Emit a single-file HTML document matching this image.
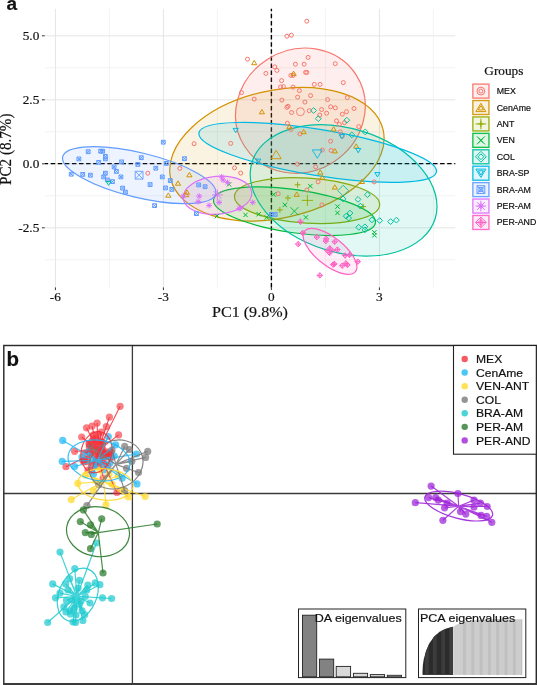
<!DOCTYPE html>
<html lang="en"><head><meta charset="utf-8"><title>PCA and DAPC of population groups</title>
<style>
html,body{margin:0;padding:0;background:#fff;}
body{width:537px;height:685px;overflow:hidden;font-family:"Liberation Sans",Arial,sans-serif;}
svg{display:block;}
</style></head><body>
<svg width="537" height="685" viewBox="0 0 537 685">
<rect width="537" height="685" fill="#fff"/>
<g id="panelA">
<g stroke="#e9e9e9" stroke-width="0.6">
<line x1="109.4" x2="109.4" y1="8.8" y2="287.4"/>
<line x1="217.4" x2="217.4" y1="8.8" y2="287.4"/>
<line x1="325.4" x2="325.4" y1="8.8" y2="287.4"/>
<line x1="433.4" x2="433.4" y1="8.8" y2="287.4"/>
<line x1="44.7" x2="455.3" y1="67.8" y2="67.8"/>
<line x1="44.7" x2="455.3" y1="131.8" y2="131.8"/>
<line x1="44.7" x2="455.3" y1="195.8" y2="195.8"/>
<line x1="44.7" x2="455.3" y1="259.8" y2="259.8"/>
</g>
<g stroke="#e5e5e5" stroke-width="1.0">
<line x1="55.4" x2="55.4" y1="8.8" y2="287.4"/>
<line x1="163.4" x2="163.4" y1="8.8" y2="287.4"/>
<line x1="271.4" x2="271.4" y1="8.8" y2="287.4"/>
<line x1="379.4" x2="379.4" y1="8.8" y2="287.4"/>
<line x1="44.7" x2="455.3" y1="35.8" y2="35.8"/>
<line x1="44.7" x2="455.3" y1="99.8" y2="99.8"/>
<line x1="44.7" x2="455.3" y1="163.8" y2="163.8"/>
<line x1="44.7" x2="455.3" y1="227.8" y2="227.8"/>
</g>
<g stroke="#000" stroke-width="1.4" stroke-dasharray="4.5 2.58">
<line x1="44.7" x2="455.3" y1="163.6" y2="163.6" stroke-dashoffset="1.1"/>
<line x1="271.4" x2="271.4" y1="287.4" y2="8.8"/>
</g>
<g>
<ellipse cx="300.4" cy="110.7" rx="66.26" ry="61.06" transform="rotate(147.52 300.4 110.7)" fill="#F8766D" fill-opacity="0.115" stroke="#F8766D" stroke-width="1.2" stroke-opacity="1.0"/>
<ellipse cx="276.9" cy="154.2" rx="109" ry="63.72" transform="rotate(167.12 276.9 154.2)" fill="#D39200" fill-opacity="0.115" stroke="#D39200" stroke-width="1.2" stroke-opacity="1.0"/>
<ellipse cx="307.1" cy="200.6" rx="72.72" ry="22.61" transform="rotate(-176.51 307.1 200.6)" fill="#93AA00" fill-opacity="0.115" stroke="#93AA00" stroke-width="1.2" stroke-opacity="1.0"/>
<ellipse cx="294.5" cy="211.2" rx="81.78" ry="21.53" transform="rotate(-171.79 294.5 211.2)" fill="#00BA38" fill-opacity="0.115" stroke="#00BA38" stroke-width="1.2" stroke-opacity="1.0"/>
<ellipse cx="343.6" cy="190.4" rx="95.84" ry="61.99" transform="rotate(-162.92 343.6 190.4)" fill="#00C19F" fill-opacity="0.115" stroke="#00C19F" stroke-width="1.2" stroke-opacity="1.0"/>
<ellipse cx="317.7" cy="152.4" rx="120.33" ry="23.1" transform="rotate(-170.67 317.7 152.4)" fill="#00B9E3" fill-opacity="0.115" stroke="#00B9E3" stroke-width="1.2" stroke-opacity="1.0"/>
<ellipse cx="139.2" cy="175.2" rx="78.72" ry="22.32" transform="rotate(-166.43 139.2 175.2)" fill="#619CFF" fill-opacity="0.115" stroke="#619CFF" stroke-width="1.2" stroke-opacity="1.0"/>
<ellipse cx="217.5" cy="195.3" rx="34.39" ry="18.94" transform="rotate(175.11 217.5 195.3)" fill="#DB72FB" fill-opacity="0.115" stroke="#DB72FB" stroke-width="1.2" stroke-opacity="1.0"/>
<ellipse cx="330" cy="251.4" rx="32.52" ry="13.97" transform="rotate(-141.52 330 251.4)" fill="#FF61C3" fill-opacity="0.115" stroke="#FF61C3" stroke-width="1.2" stroke-opacity="1.0"/>
</g>
<g fill="none" stroke="#F8766D" stroke-width="1.0">
<circle cx="306.8" cy="21.2" r="2"/><circle cx="286.9" cy="36.2" r="2"/><circle cx="291.4" cy="35.2" r="2"/><circle cx="247.5" cy="59.2" r="2"/><circle cx="308.1" cy="57.4" r="2"/><circle cx="295.4" cy="64.2" r="2"/><circle cx="304.1" cy="64.2" r="2"/><circle cx="335.3" cy="63.7" r="2"/><circle cx="274.7" cy="66.9" r="2"/><circle cx="276.9" cy="70.4" r="2"/><circle cx="265.9" cy="73.4" r="2"/><circle cx="305.6" cy="72.4" r="2"/><circle cx="306.8" cy="72.4" r="2"/><circle cx="290.9" cy="75.4" r="2"/><circle cx="293.1" cy="75.4" r="2"/><circle cx="281.6" cy="80.6" r="2"/><circle cx="314.3" cy="84.4" r="2"/><circle cx="320.1" cy="84.4" r="2"/><circle cx="343.3" cy="82.6" r="2"/><circle cx="280.6" cy="86.9" r="2"/><circle cx="283.4" cy="86.6" r="2"/><circle cx="293.1" cy="87.1" r="2"/><circle cx="241.5" cy="92.6" r="2"/><circle cx="299.4" cy="90.6" r="2"/><circle cx="254.2" cy="99.1" r="2"/><circle cx="297.6" cy="97.1" r="2"/><circle cx="310.6" cy="95.6" r="2"/><circle cx="347.3" cy="97.6" r="2"/><circle cx="281.9" cy="100.1" r="2"/><circle cx="327.6" cy="99.6" r="2"/><circle cx="304.9" cy="102.1" r="2"/><circle cx="288.1" cy="106.3" r="2"/><circle cx="286.9" cy="107.3" r="2"/><circle cx="330.6" cy="106.8" r="2"/><circle cx="335.3" cy="107.8" r="2"/><circle cx="354" cy="108.5" r="2"/><circle cx="291.6" cy="112.5" r="2"/><circle cx="309.3" cy="110.7" r="2"/><circle cx="321.6" cy="109.5" r="2"/><circle cx="319.8" cy="115" r="2"/><circle cx="326.6" cy="113.2" r="2"/><circle cx="342.3" cy="114.2" r="2"/><circle cx="336.5" cy="120.9" r="2"/><circle cx="344.5" cy="122.7" r="2"/><circle cx="339.3" cy="124.4" r="2"/><circle cx="287.4" cy="123.2" r="2"/><circle cx="290.9" cy="129.4" r="2"/><circle cx="299.9" cy="133.9" r="2"/><circle cx="340.3" cy="131.9" r="2"/><circle cx="342.3" cy="136.2" r="2"/><circle cx="330.6" cy="141.2" r="2"/><circle cx="230.7" cy="143.4" r="2"/><circle cx="322.3" cy="150.1" r="2"/><circle cx="331.1" cy="150.4" r="2"/><circle cx="297.4" cy="164.1" r="2"/><circle cx="315.6" cy="166.9" r="2"/><circle cx="234.5" cy="167.9" r="2"/><circle cx="240.7" cy="173.1" r="2"/><circle cx="318.1" cy="181.8" r="2"/><circle cx="346.5" cy="111.7" r="2"/><circle cx="358.7" cy="126.6" r="2"/><circle cx="147.8" cy="173.2" r="2"/><circle cx="179.8" cy="168.4" r="2"/><circle cx="194.1" cy="143.7" r="2"/><circle cx="374.2" cy="181.9" r="2"/><circle cx="278.2" cy="193.7" r="2"/><circle cx="306.9" cy="190" r="2"/><circle cx="321.9" cy="204.9" r="2"/>
</g>
<g fill="none" stroke="#D39200" stroke-width="1.0">
<path d="M254.2 60.4 L256.8 64.71 L251.6 64.71 Z"/><path d="M293.6 71.1 L296.2 75.41 L291 75.41 Z"/><path d="M261.9 109.5 L264.5 113.81 L259.3 113.81 Z"/><path d="M289.4 124.4 L292 128.71 L286.8 128.71 Z"/><path d="M303.6 129.4 L306.2 133.71 L301 133.71 Z"/><path d="M333.6 126.7 L336.2 131.01 L331 131.01 Z"/><path d="M334.8 148.6 L337.4 152.91 L332.2 152.91 Z"/><path d="M320.3 169.9 L322.9 174.21 L317.7 174.21 Z"/><path d="M322.3 175.3 L324.9 179.61 L319.7 179.61 Z"/><path d="M334.8 184.8 L337.4 189.11 L332.2 189.11 Z"/><path d="M356.2 143.8 L358.8 148.11 L353.6 148.11 Z"/><path d="M361.9 179.2 L364.5 183.51 L359.3 183.51 Z"/><path d="M178 180.9 L180.6 185.21 L175.4 185.21 Z"/><path d="M168.3 192.9 L170.9 197.21 L165.7 197.21 Z"/><path d="M189.4 172.5 L192 176.81 L186.8 176.81 Z"/><path d="M186.9 189.9 L189.5 194.21 L184.3 194.21 Z"/><path d="M186.2 192.4 L188.8 196.71 L183.6 196.71 Z"/><path d="M296.7 192 L299.3 196.31 L294.1 196.31 Z"/>
</g>
<g fill="none" stroke="#93AA00" stroke-width="1.0">
<path d="M294.7 184.8 H300.5 M297.6 181.9 V187.7"/><path d="M285 198 H290.8 M287.9 195.1 V200.9"/><path d="M277 209.9 H282.8 M279.9 207 V212.8"/><path d="M360.3 206.6 H366.1 M363.2 203.7 V209.5"/>
</g>
<g fill="none" stroke="#00BA38" stroke-width="1.0">
<path d="M308.1 183.9 L312.5 188.3 M308.1 188.3 L312.5 183.9"/><path d="M271.5 192.3 L275.9 196.7 M271.5 196.7 L275.9 192.3"/><path d="M282.7 202.7 L287.1 207.1 M282.7 207.1 L287.1 202.7"/><path d="M303.7 215.2 L308.1 219.6 M303.7 219.6 L308.1 215.2"/><path d="M243.3 212.7 L247.7 217.1 M243.3 217.1 L247.7 212.7"/><path d="M256.5 212 L260.9 216.4 M256.5 216.4 L260.9 212"/><path d="M264.5 215.2 L268.9 219.6 M264.5 219.6 L268.9 215.2"/><path d="M335.3 204.4 L339.7 208.8 M335.3 208.8 L339.7 204.4"/><path d="M335.3 210.7 L339.7 215.1 M335.3 215.1 L339.7 210.7"/><path d="M372.2 230.1 L376.6 234.5 M372.2 234.5 L376.6 230.1"/><path d="M372.2 233.1 L376.6 237.5 M372.2 237.5 L376.6 233.1"/><path d="M226.9 182.2 L231.3 186.6 M226.9 186.6 L231.3 182.2"/><path d="M214.7 213.9 L219.1 218.3 M214.7 218.3 L219.1 213.9"/>
</g>
<g fill="none" stroke="#00C19F" stroke-width="1.0">
<path d="M313.6 107.6 L316.5 110.5 L313.6 113.4 L310.7 110.5 Z"/><path d="M318.3 115.8 L321.2 118.7 L318.3 121.6 L315.4 118.7 Z"/><path d="M346.8 117.3 L349.7 120.2 L346.8 123.1 L343.9 120.2 Z"/><path d="M351.8 132 L354.7 134.9 L351.8 137.8 L348.9 134.9 Z"/><path d="M365.2 129 L368.1 131.9 L365.2 134.8 L362.3 131.9 Z"/><path d="M367.4 191.8 L370.3 194.7 L367.4 197.6 L364.5 194.7 Z"/><path d="M343 196 L345.9 198.9 L343 201.8 L340.1 198.9 Z"/><path d="M358 196.5 L360.9 199.4 L358 202.3 L355.1 199.4 Z"/><path d="M360.4 203.2 L363.3 206.1 L360.4 209 L357.5 206.1 Z"/><path d="M350 210.2 L352.9 213.1 L350 216 L347.1 213.1 Z"/><path d="M346.2 213.2 L349.1 216.1 L346.2 219 L343.3 216.1 Z"/><path d="M348.7 215.2 L351.6 218.1 L348.7 221 L345.8 218.1 Z"/><path d="M371.9 217 L374.8 219.9 L371.9 222.8 L369 219.9 Z"/><path d="M379.7 217.7 L382.6 220.6 L379.7 223.5 L376.8 220.6 Z"/><path d="M390.6 218.7 L393.5 221.6 L390.6 224.5 L387.7 221.6 Z"/><path d="M396.4 217.2 L399.3 220.1 L396.4 223 L393.5 220.1 Z"/><path d="M358.7 224.4 L361.6 227.3 L358.7 230.2 L355.8 227.3 Z"/><path d="M364.9 223.9 L367.8 226.8 L364.9 229.7 L362 226.8 Z"/><path d="M364.9 226.9 L367.8 229.8 L364.9 232.7 L362 229.8 Z"/>
</g>
<g fill="none" stroke="#00B9E3" stroke-width="1.0">
<path d="M235.7 132.7 L238.3 128.39 L233.1 128.39 Z"/><path d="M258.2 163.4 L260.8 159.09 L255.6 159.09 Z"/><path d="M341.8 138.9 L344.4 134.59 L339.2 134.59 Z"/><path d="M358.2 152.8 L360.8 148.49 L355.6 148.49 Z"/><path d="M377.4 176.9 L380 172.59 L374.8 172.59 Z"/>
</g>
<g fill="none" stroke="#619CFF" stroke-width="1.0">
<path d="M161.4 140.3 H165.2 V144.1 H161.4 Z M161.4 140.3 L165.2 144.1 M161.4 144.1 L165.2 140.3"/><path d="M86.3 149.8 H90.1 V153.6 H86.3 Z M86.3 149.8 L90.1 153.6 M86.3 153.6 L90.1 149.8"/><path d="M98.8 149.3 H102.6 V153.1 H98.8 Z M98.8 149.3 L102.6 153.1 M98.8 153.1 L102.6 149.3"/><path d="M100.8 149.3 H104.6 V153.1 H100.8 Z M100.8 149.3 L104.6 153.1 M100.8 153.1 L104.6 149.3"/><path d="M103.5 154.5 H107.3 V158.3 H103.5 Z M103.5 154.5 L107.3 158.3 M103.5 158.3 L107.3 154.5"/><path d="M103.5 157 H107.3 V160.8 H103.5 Z M103.5 157 L107.3 160.8 M103.5 160.8 L107.3 157"/><path d="M77 157 H80.8 V160.8 H77 Z M77 157 L80.8 160.8 M77 160.8 L80.8 157"/><path d="M139.4 155.8 H143.2 V159.6 H139.4 Z M139.4 155.8 L143.2 159.6 M139.4 159.6 L143.2 155.8"/><path d="M119.7 160 H123.5 V163.8 H119.7 Z M119.7 160 L123.5 163.8 M119.7 163.8 L123.5 160"/><path d="M96.8 160.5 H100.6 V164.3 H96.8 Z M96.8 160.5 L100.6 164.3 M96.8 164.3 L100.6 160.5"/><path d="M135.9 162.5 H139.7 V166.3 H135.9 Z M135.9 162.5 L139.7 166.3 M135.9 166.3 L139.7 162.5"/><path d="M164.4 161.5 H168.2 V165.3 H164.4 Z M164.4 161.5 L168.2 165.3 M164.4 165.3 L168.2 161.5"/><path d="M112.2 165 H116 V168.8 H112.2 Z M112.2 165 L116 168.8 M112.2 168.8 L116 165"/><path d="M153.9 166.3 H157.7 V170.1 H153.9 Z M153.9 166.3 L157.7 170.1 M153.9 170.1 L157.7 166.3"/><path d="M69.3 172.3 H73.1 V176.1 H69.3 Z M69.3 172.3 L73.1 176.1 M69.3 176.1 L73.1 172.3"/><path d="M80.8 172.5 H84.6 V176.3 H80.8 Z M80.8 172.5 L84.6 176.3 M80.8 176.3 L84.6 172.5"/><path d="M88.5 173.3 H92.3 V177.1 H88.5 Z M88.5 173.3 L92.3 177.1 M88.5 177.1 L92.3 173.3"/><path d="M103.5 171.3 H107.3 V175.1 H103.5 Z M103.5 171.3 L107.3 175.1 M103.5 175.1 L107.3 171.3"/><path d="M114.5 169.5 H118.3 V173.3 H114.5 Z M114.5 169.5 L118.3 173.3 M114.5 173.3 L118.3 169.5"/><path d="M119 175 H122.8 V178.8 H119 Z M119 175 L122.8 178.8 M119 178.8 L122.8 175"/><path d="M101.8 175 H105.6 V178.8 H101.8 Z M101.8 175 L105.6 178.8 M101.8 178.8 L105.6 175"/><path d="M105.5 178 H109.3 V181.8 H105.5 Z M105.5 178 L109.3 181.8 M105.5 181.8 L109.3 178"/><path d="M110.5 179.7 H114.3 V183.5 H110.5 Z M110.5 179.7 L114.3 183.5 M110.5 183.5 L114.3 179.7"/><path d="M160.4 175 H164.2 V178.8 H160.4 Z M160.4 175 L164.2 178.8 M160.4 178.8 L164.2 175"/><path d="M168.4 178.7 H172.2 V182.5 H168.4 Z M168.4 178.7 L172.2 182.5 M168.4 182.5 L172.2 178.7"/><path d="M148.2 182.7 H152 V186.5 H148.2 Z M148.2 182.7 L152 186.5 M148.2 186.5 L152 182.7"/><path d="M120.7 186.2 H124.5 V190 H120.7 Z M120.7 186.2 L124.5 190 M120.7 190 L124.5 186.2"/><path d="M123.5 190.2 H127.3 V194 H123.5 Z M123.5 190.2 L127.3 194 M123.5 194 L127.3 190.2"/><path d="M163.6 186 H167.4 V189.8 H163.6 Z M163.6 186 L167.4 189.8 M163.6 189.8 L167.4 186"/><path d="M169.9 187.5 H173.7 V191.3 H169.9 Z M169.9 187.5 L173.7 191.3 M169.9 191.3 L173.7 187.5"/><path d="M152.7 203.7 H156.5 V207.5 H152.7 Z M152.7 203.7 L156.5 207.5 M152.7 207.5 L156.5 203.7"/><path d="M182.6 156.8 H186.4 V160.6 H182.6 Z M182.6 156.8 L186.4 160.6 M182.6 160.6 L186.4 156.8"/><path d="M196.8 183 H200.6 V186.8 H196.8 Z M196.8 183 L200.6 186.8 M196.8 186.8 L200.6 183"/><path d="M203.2 184.8 H207 V188.6 H203.2 Z M203.2 184.8 L207 188.6 M203.2 188.6 L207 184.8"/><path d="M194.5 211.7 H198.3 V215.5 H194.5 Z M194.5 211.7 L198.3 215.5 M194.5 215.5 L198.3 211.7"/><path d="M269.5 212.5 H273.3 V216.3 H269.5 Z M269.5 212.5 L273.3 216.3 M269.5 216.3 L273.3 212.5"/><path d="M273.3 212.5 H277.1 V216.3 H273.3 Z M273.3 212.5 L277.1 216.3 M273.3 216.3 L277.1 212.5"/>
</g>
<g fill="none" stroke="#DB72FB" stroke-width="1.0">
<path d="M218.7 177 H224.5 M221.6 174.1 V179.9"/><path d="M219.51 174.91 L223.69 179.09 M219.51 179.09 L223.69 174.91"/><path d="M220.2 180 H226 M223.1 177.1 V182.9"/><path d="M221.01 177.91 L225.19 182.09 M221.01 182.09 L225.19 177.91"/><path d="M224.5 182.4 H230.3 M227.4 179.5 V185.3"/><path d="M225.31 180.31 L229.49 184.49 M225.31 184.49 L229.49 180.31"/><path d="M196.3 196.2 H202.1 M199.2 193.3 V199.1"/><path d="M197.11 194.11 L201.29 198.29 M197.11 198.29 L201.29 194.11"/><path d="M195.3 201.7 H201.1 M198.2 198.8 V204.6"/><path d="M196.11 199.61 L200.29 203.79 M196.11 203.79 L200.29 199.61"/><path d="M206.2 205.4 H212 M209.1 202.5 V208.3"/><path d="M207.01 203.31 L211.19 207.49 M207.01 207.49 L211.19 203.31"/><path d="M216.2 202.4 H222 M219.1 199.5 V205.3"/><path d="M217.01 200.31 L221.19 204.49 M217.01 204.49 L221.19 200.31"/><path d="M236.2 208.6 H242 M239.1 205.7 V211.5"/><path d="M237.01 206.51 L241.19 210.69 M237.01 210.69 L241.19 206.51"/><path d="M249.9 202.4 H255.7 M252.8 199.5 V205.3"/><path d="M250.71 200.31 L254.89 204.49 M250.71 204.49 L254.89 200.31"/><path d="M180.3 196.2 H186.1 M183.2 193.3 V199.1"/><path d="M181.11 194.11 L185.29 198.29 M181.11 198.29 L185.29 194.11"/><path d="M237.8 207.9 H243.6 M240.7 205 V210.8"/><path d="M238.61 205.81 L242.79 209.99 M238.61 209.99 L242.79 205.81"/>
</g>
<g fill="none" stroke="#FF61C3" stroke-width="1.0">
<path d="M300.4 219 L303.1 221.7 L300.4 224.4 L297.7 221.7 Z"/><path d="M297.7 221.7 H303.1 M300.4 219 V224.4"/><path d="M298.2 241.4 L300.9 244.1 L298.2 246.8 L295.5 244.1 Z"/><path d="M295.5 244.1 H300.9 M298.2 241.4 V246.8"/><path d="M302.7 230.2 L305.4 232.9 L302.7 235.6 L300 232.9 Z"/><path d="M300 232.9 H305.4 M302.7 230.2 V235.6"/><path d="M316.8 234.4 L319.5 237.1 L316.8 239.8 L314.1 237.1 Z"/><path d="M314.1 237.1 H319.5 M316.8 234.4 V239.8"/><path d="M326.2 236.1 L328.9 238.8 L326.2 241.5 L323.5 238.8 Z"/><path d="M323.5 238.8 H328.9 M326.2 236.1 V241.5"/><path d="M325.8 238.4 L328.5 241.1 L325.8 243.8 L323.1 241.1 Z"/><path d="M323.1 241.1 H328.5 M325.8 238.4 V243.8"/><path d="M334.7 239.1 L337.4 241.8 L334.7 244.5 L332 241.8 Z"/><path d="M332 241.8 H337.4 M334.7 239.1 V244.5"/><path d="M330.2 246.3 L332.9 249 L330.2 251.7 L327.5 249 Z"/><path d="M327.5 249 H332.9 M330.2 246.3 V251.7"/><path d="M337.4 246.9 L340.1 249.6 L337.4 252.3 L334.7 249.6 Z"/><path d="M334.7 249.6 H340.1 M337.4 246.9 V252.3"/><path d="M329 249.6 L331.7 252.3 L329 255 L326.3 252.3 Z"/><path d="M326.3 252.3 H331.7 M329 249.6 V255"/><path d="M345.1 252.8 L347.8 255.5 L345.1 258.2 L342.4 255.5 Z"/><path d="M342.4 255.5 H347.8 M345.1 252.8 V258.2"/><path d="M349.6 252.2 L352.3 254.9 L349.6 257.6 L346.9 254.9 Z"/><path d="M346.9 254.9 H352.3 M349.6 252.2 V257.6"/><path d="M357.8 258.9 L360.5 261.6 L357.8 264.3 L355.1 261.6 Z"/><path d="M355.1 261.6 H360.5 M357.8 258.9 V264.3"/><path d="M333.2 261.9 L335.9 264.6 L333.2 267.3 L330.5 264.6 Z"/><path d="M330.5 264.6 H335.9 M333.2 261.9 V267.3"/><path d="M334.4 261.2 L337.1 263.9 L334.4 266.6 L331.7 263.9 Z"/><path d="M331.7 263.9 H337.1 M334.4 261.2 V266.6"/><path d="M342.2 263 L344.9 265.7 L342.2 268.4 L339.5 265.7 Z"/><path d="M339.5 265.7 H344.9 M342.2 263 V268.4"/><path d="M345.9 260.7 L348.6 263.4 L345.9 266.1 L343.2 263.4 Z"/><path d="M343.2 263.4 H348.6 M345.9 260.7 V266.1"/><path d="M347.4 262.2 L350.1 264.9 L347.4 267.6 L344.7 264.9 Z"/><path d="M344.7 264.9 H350.1 M347.4 262.2 V267.6"/><path d="M319.8 272.7 L322.5 275.4 L319.8 278.1 L317.1 275.4 Z"/><path d="M317.1 275.4 H322.5 M319.8 272.7 V278.1"/>
</g>
<g fill="none" stroke="#00C19F" stroke-width="1.0">
<path d="M108.6 185.41 L111 181.43 L106.2 181.43 Z"/>
</g>
<g fill="none" stroke="#F8766D" stroke-width="0.9">
<circle cx="300.4" cy="111.7" r="4"/>
</g>
<g fill="none" stroke="#D39200" stroke-width="0.9">
<path d="M276.2 150.39 L281.2 158.69 L271.2 158.69 Z"/>
</g>
<g fill="none" stroke="#93AA00" stroke-width="0.9">
<path d="M301.8 200.4 H313 M307.4 194.8 V206"/>
</g>
<g fill="none" stroke="#00BA38" stroke-width="0.9">
<path d="M290.4 207.2 L298.4 215.2 M290.4 215.2 L298.4 207.2"/>
</g>
<g fill="none" stroke="#00C19F" stroke-width="0.9">
<path d="M343.2 185.3 L348.6 190.7 L343.2 196.1 L337.8 190.7 Z"/>
</g>
<g fill="none" stroke="#00B9E3" stroke-width="0.9">
<path d="M317.3 158.21 L322.3 149.91 L312.3 149.91 Z"/>
</g>
<g fill="none" stroke="#619CFF" stroke-width="0.9">
<path d="M135.2 171.3 H143 V179.1 H135.2 Z M135.2 171.3 L143 179.1 M135.2 179.1 L143 171.3"/>
</g>
<g fill="none" stroke="#DB72FB" stroke-width="0.9">
<path d="M212 194.9 H222.8 M217.4 189.5 V200.3"/><path d="M213.51 191.01 L221.29 198.79 M213.51 198.79 L221.29 191.01"/>
</g>
<g fill="none" stroke="#FF61C3" stroke-width="0.9">
<path d="M329.8 245.6 L334.8 250.6 L329.8 255.6 L324.8 250.6 Z"/><path d="M324.8 250.6 H334.8 M329.8 245.6 V255.6"/>
</g>
<g stroke="#333" stroke-width="1">
<line x1="42" x2="44.7" y1="35.8" y2="35.8"/>
<line x1="42" x2="44.7" y1="99.8" y2="99.8"/>
<line x1="42" x2="44.7" y1="163.8" y2="163.8"/>
<line x1="42" x2="44.7" y1="227.8" y2="227.8"/>
<line x1="55.4" x2="55.4" y1="287.4" y2="290.1"/>
<line x1="163.4" x2="163.4" y1="287.4" y2="290.1"/>
<line x1="271.4" x2="271.4" y1="287.4" y2="290.1"/>
<line x1="379.4" x2="379.4" y1="287.4" y2="290.1"/>
</g>
<g font-family="'Liberation Serif', 'Times New Roman', serif" font-size="12.3" fill="#111">
<text transform="translate(39.3 39.8) scale(1 0.93)" font-family="'Liberation Serif', 'Times New Roman', serif" font-size="13.3" text-anchor="end" fill="#111" stroke="#111" stroke-width="0.2">5.0</text>
<text transform="translate(39.3 103.8) scale(1 0.93)" font-family="'Liberation Serif', 'Times New Roman', serif" font-size="13.3" text-anchor="end" fill="#111" stroke="#111" stroke-width="0.2">2.5</text>
<text transform="translate(39.3 167.8) scale(1 0.93)" font-family="'Liberation Serif', 'Times New Roman', serif" font-size="13.3" text-anchor="end" fill="#111" stroke="#111" stroke-width="0.2">0.0</text>
<text transform="translate(39.3 231.8) scale(1 0.93)" font-family="'Liberation Serif', 'Times New Roman', serif" font-size="13.3" text-anchor="end" fill="#111" stroke="#111" stroke-width="0.2">-2.5</text>
<text transform="translate(55.4 301) scale(1 0.93)" font-family="'Liberation Serif', 'Times New Roman', serif" font-size="13.3" text-anchor="middle" fill="#111" stroke="#111" stroke-width="0.2">-6</text>
<text transform="translate(163.4 301) scale(1 0.93)" font-family="'Liberation Serif', 'Times New Roman', serif" font-size="13.3" text-anchor="middle" fill="#111" stroke="#111" stroke-width="0.2">-3</text>
<text transform="translate(271.4 301) scale(1 0.93)" font-family="'Liberation Serif', 'Times New Roman', serif" font-size="13.3" text-anchor="middle" fill="#111" stroke="#111" stroke-width="0.2">0</text>
<text transform="translate(379.4 301) scale(1 0.93)" font-family="'Liberation Serif', 'Times New Roman', serif" font-size="13.3" text-anchor="middle" fill="#111" stroke="#111" stroke-width="0.2">3</text>
</g>
<g font-family="'Liberation Serif', 'Times New Roman', serif" font-size="16" fill="#111">
<text transform="translate(250 316.6) scale(1 0.94)" font-family="'Liberation Serif', 'Times New Roman', serif" font-size="16.1" text-anchor="middle" fill="#111" stroke="#111" stroke-width="0.2">PC1 (9.8%)</text>
<text transform="translate(11.4 149.2) rotate(-90) scale(0.94 1)" font-family="'Liberation Serif', 'Times New Roman', serif" font-size="16.1" text-anchor="middle" fill="#111" stroke="#111" stroke-width="0.2">PC2 (8.7%)</text>
</g>
<text transform="translate(6.5 10.1) scale(1 0.96)" font-family="'Liberation Sans', Arial, sans-serif" font-size="19" font-weight="700" text-anchor="start" fill="#111" stroke="#111" stroke-width="0.2">a</text>
<text transform="translate(484.3 75.1) scale(1 0.94)" font-family="'Liberation Serif', 'Times New Roman', serif" font-size="13.3" text-anchor="start" fill="#111" stroke="#111" stroke-width="0.2">Groups</text>
<rect x="472.85" y="84.1" width="16.1" height="14.0" fill="#F8766D" fill-opacity="0.12" stroke="#F8766D" stroke-opacity="0.9" stroke-width="1.4"/>
<g fill="none" stroke="#F8766D" stroke-width="1.0">
<circle cx="480.9" cy="91.1" r="2"/>
<circle cx="480.9" cy="91.1" r="3.9"/>
</g>
<text transform="translate(496.7 94.1) scale(1 0.94)" font-family="'Liberation Sans', Arial, sans-serif" font-size="8.8" text-anchor="start" fill="#111" stroke="#111" stroke-width="0.2">MEX</text>
<rect x="472.85" y="100.52" width="16.1" height="14.0" fill="#D39200" fill-opacity="0.12" stroke="#D39200" stroke-opacity="0.9" stroke-width="1.4"/>
<g fill="none" stroke="#D39200" stroke-width="1.0">
<path d="M480.9 105.62 L483.5 109.93 L478.3 109.93 Z"/>
<path d="M480.9 103.31 L485.9 111.61 L475.9 111.61 Z"/>
</g>
<text transform="translate(496.7 110.52) scale(1 0.94)" font-family="'Liberation Sans', Arial, sans-serif" font-size="8.8" text-anchor="start" fill="#111" stroke="#111" stroke-width="0.2">CenAme</text>
<rect x="472.85" y="116.94" width="16.1" height="14.0" fill="#93AA00" fill-opacity="0.12" stroke="#93AA00" stroke-opacity="0.9" stroke-width="1.4"/>
<g fill="none" stroke="#93AA00" stroke-width="1.0">
<path d="M478 123.94 H483.8 M480.9 121.04 V126.84"/>
<path d="M475.6 123.94 H486.2 M480.9 118.64 V129.24"/>
</g>
<text transform="translate(496.7 126.94) scale(1 0.94)" font-family="'Liberation Sans', Arial, sans-serif" font-size="8.8" text-anchor="start" fill="#111" stroke="#111" stroke-width="0.2">ANT</text>
<rect x="472.85" y="133.36" width="16.1" height="14.0" fill="#00BA38" fill-opacity="0.12" stroke="#00BA38" stroke-opacity="0.9" stroke-width="1.4"/>
<g fill="none" stroke="#00BA38" stroke-width="1.0">
<path d="M478.7 138.16 L483.1 142.56 M478.7 142.56 L483.1 138.16"/>
<path d="M476.9 136.36 L484.9 144.36 M476.9 144.36 L484.9 136.36"/>
</g>
<text transform="translate(496.7 143.36) scale(1 0.94)" font-family="'Liberation Sans', Arial, sans-serif" font-size="8.8" text-anchor="start" fill="#111" stroke="#111" stroke-width="0.2">VEN</text>
<rect x="472.85" y="149.78" width="16.1" height="14.0" fill="#00C19F" fill-opacity="0.12" stroke="#00C19F" stroke-opacity="0.9" stroke-width="1.4"/>
<g fill="none" stroke="#00C19F" stroke-width="1.0">
<path d="M480.9 153.88 L483.8 156.78 L480.9 159.68 L478 156.78 Z"/>
<path d="M480.9 151.38 L486.3 156.78 L480.9 162.18 L475.5 156.78 Z"/>
</g>
<text transform="translate(496.7 159.78) scale(1 0.94)" font-family="'Liberation Sans', Arial, sans-serif" font-size="8.8" text-anchor="start" fill="#111" stroke="#111" stroke-width="0.2">COL</text>
<rect x="472.85" y="166.2" width="16.1" height="14.0" fill="#00B9E3" fill-opacity="0.12" stroke="#00B9E3" stroke-opacity="0.9" stroke-width="1.4"/>
<g fill="none" stroke="#00B9E3" stroke-width="1.0">
<path d="M480.9 175.1 L483.5 170.79 L478.3 170.79 Z"/>
<path d="M480.9 177.41 L485.9 169.11 L475.9 169.11 Z"/>
</g>
<text transform="translate(496.7 176.2) scale(1 0.94)" font-family="'Liberation Sans', Arial, sans-serif" font-size="8.8" text-anchor="start" fill="#111" stroke="#111" stroke-width="0.2">BRA-SP</text>
<rect x="472.85" y="182.62" width="16.1" height="14.0" fill="#619CFF" fill-opacity="0.12" stroke="#619CFF" stroke-opacity="0.9" stroke-width="1.4"/>
<g fill="none" stroke="#619CFF" stroke-width="1.0">
<path d="M478.9 187.62 H482.9 V191.62 H478.9 Z M478.9 187.62 L482.9 191.62 M478.9 191.62 L482.9 187.62"/>
<path d="M477 185.72 H484.8 V193.52 H477 Z M477 185.72 L484.8 193.52 M477 193.52 L484.8 185.72"/>
</g>
<text transform="translate(496.7 192.62) scale(1 0.94)" font-family="'Liberation Sans', Arial, sans-serif" font-size="8.8" text-anchor="start" fill="#111" stroke="#111" stroke-width="0.2">BRA-AM</text>
<rect x="472.85" y="199.04" width="16.1" height="14.0" fill="#DB72FB" fill-opacity="0.12" stroke="#DB72FB" stroke-opacity="0.9" stroke-width="1.4"/>
<g fill="none" stroke="#DB72FB" stroke-width="1.0">
<path d="M478 206.04 H483.8 M480.9 203.14 V208.94"/><path d="M478.81 203.95 L482.99 208.13 M478.81 208.13 L482.99 203.95"/>
<path d="M475.6 206.04 H486.2 M480.9 200.74 V211.34"/><path d="M477.08 202.22 L484.72 209.86 M477.08 209.86 L484.72 202.22"/>
</g>
<text transform="translate(496.7 209.04) scale(1 0.94)" font-family="'Liberation Sans', Arial, sans-serif" font-size="8.8" text-anchor="start" fill="#111" stroke="#111" stroke-width="0.2">PER-AM</text>
<rect x="472.85" y="215.46" width="16.1" height="14.0" fill="#FF61C3" fill-opacity="0.12" stroke="#FF61C3" stroke-opacity="0.9" stroke-width="1.4"/>
<g fill="none" stroke="#FF61C3" stroke-width="1.0">
<path d="M480.9 219.56 L483.8 222.46 L480.9 225.36 L478 222.46 Z"/><path d="M478 222.46 H483.8 M480.9 219.56 V225.36"/>
<path d="M480.9 217.16 L486.2 222.46 L480.9 227.76 L475.6 222.46 Z"/><path d="M475.6 222.46 H486.2 M480.9 217.16 V227.76"/>
</g>
<text transform="translate(496.7 225.46) scale(1 0.94)" font-family="'Liberation Sans', Arial, sans-serif" font-size="8.8" text-anchor="start" fill="#111" stroke="#111" stroke-width="0.2">PER-AND</text>
</g>
<g id="panelB">
<g stroke="#3a3a3a" stroke-width="1.3" fill="none">
<line x1="3.8" x2="536.3" y1="493.5" y2="493.5"/>
<line x1="132.4" x2="132.4" y1="345.5" y2="683.8"/>
</g>
<g fill="#F5303A" fill-opacity="0.62">
<circle cx="120.1" cy="406.3" r="3.6"/><circle cx="109.4" cy="417.1" r="3.6"/><circle cx="97.1" cy="423.1" r="3.6"/><circle cx="92" cy="426.1" r="3.6"/><circle cx="86.5" cy="427.8" r="3.6"/><circle cx="106.3" cy="426.7" r="3.6"/><circle cx="118.6" cy="434.9" r="3.6"/><circle cx="81.7" cy="437" r="3.6"/><circle cx="74.6" cy="451.3" r="3.6"/><circle cx="66" cy="466.7" r="3.6"/><circle cx="116.9" cy="492.5" r="3.6"/><circle cx="103" cy="478" r="3.6"/><circle cx="84" cy="462" r="3.6"/><circle cx="111" cy="452" r="3.6"/><circle cx="88" cy="470" r="3.6"/><circle cx="108" cy="466" r="3.6"/><circle cx="95.25" cy="456.14" r="3.6"/><circle cx="95.51" cy="446.22" r="3.6"/><circle cx="89.32" cy="447.44" r="3.6"/><circle cx="107.28" cy="455.09" r="3.6"/><circle cx="106.62" cy="452.99" r="3.6"/><circle cx="100.97" cy="452.22" r="3.6"/><circle cx="82.84" cy="460.26" r="3.6"/><circle cx="101.96" cy="455.99" r="3.6"/><circle cx="89.67" cy="444.38" r="3.6"/><circle cx="100.19" cy="449.45" r="3.6"/><circle cx="102.08" cy="442.29" r="3.6"/><circle cx="100.22" cy="454.73" r="3.6"/><circle cx="91.68" cy="470.61" r="3.6"/><circle cx="102.4" cy="464.36" r="3.6"/><circle cx="92.04" cy="441.13" r="3.6"/><circle cx="94.47" cy="448.72" r="3.6"/><circle cx="103.06" cy="452.98" r="3.6"/><circle cx="93.56" cy="438.52" r="3.6"/><circle cx="92.92" cy="464.65" r="3.6"/><circle cx="90.39" cy="452.94" r="3.6"/><circle cx="101.25" cy="432.12" r="3.6"/><circle cx="97.93" cy="465.67" r="3.6"/><circle cx="96.57" cy="440.19" r="3.6"/><circle cx="101.88" cy="449.25" r="3.6"/><circle cx="84.61" cy="459.93" r="3.6"/><circle cx="103.39" cy="461.35" r="3.6"/><circle cx="110.18" cy="454.35" r="3.6"/><circle cx="98.55" cy="434.41" r="3.6"/><circle cx="102.92" cy="442.66" r="3.6"/><circle cx="93.52" cy="434.82" r="3.6"/><circle cx="88.98" cy="443.63" r="3.6"/><circle cx="84.67" cy="452.87" r="3.6"/><circle cx="110.2" cy="456.94" r="3.6"/><circle cx="100.65" cy="441.16" r="3.6"/><circle cx="87.65" cy="461.73" r="3.6"/><circle cx="107.2" cy="451.89" r="3.6"/><circle cx="99.66" cy="455.21" r="3.6"/><circle cx="111.53" cy="457.43" r="3.6"/><circle cx="102.06" cy="456.57" r="3.6"/><circle cx="105.9" cy="456.36" r="3.6"/><circle cx="95.88" cy="462.23" r="3.6"/><circle cx="102.36" cy="448.2" r="3.6"/>
</g>
<g fill="#1FB8F5" fill-opacity="0.72">
<circle cx="62.7" cy="440.4" r="3.6"/><circle cx="62.2" cy="461.3" r="3.6"/><circle cx="74.7" cy="466.5" r="3.6"/><circle cx="108.3" cy="436.5" r="3.6"/><circle cx="115.6" cy="444.8" r="3.6"/><circle cx="136.5" cy="454" r="3.6"/><circle cx="114.3" cy="456" r="3.6"/><circle cx="122.1" cy="478.2" r="3.6"/><circle cx="137" cy="483.9" r="3.6"/><circle cx="93.4" cy="474.3" r="3.6"/><circle cx="88" cy="452" r="3.6"/><circle cx="104" cy="470" r="3.6"/><circle cx="95" cy="466" r="3.6"/><circle cx="82" cy="457" r="3.6"/><circle cx="110" cy="463" r="3.6"/>
</g>
<g fill="#FFD92A" fill-opacity="0.72">
<circle cx="77.8" cy="483.4" r="3.6"/><circle cx="71.3" cy="499.6" r="3.6"/><circle cx="93.4" cy="490.7" r="3.6"/><circle cx="106" cy="504.8" r="3.6"/><circle cx="128.6" cy="497" r="3.6"/><circle cx="145.1" cy="496.5" r="3.6"/><circle cx="85.6" cy="475.1" r="3.6"/><circle cx="118.2" cy="475.6" r="3.6"/><circle cx="123" cy="490" r="3.6"/><circle cx="100" cy="470" r="3.6"/><circle cx="112" cy="484" r="3.6"/><circle cx="96" cy="481" r="3.6"/><circle cx="109" cy="474" r="3.6"/>
</g>
<g fill="#7A7A7A" fill-opacity="0.72">
<circle cx="124.7" cy="446.4" r="3.6"/><circle cx="129.4" cy="449.5" r="3.6"/><circle cx="147.7" cy="451.4" r="3.6"/><circle cx="145.6" cy="457.4" r="3.6"/><circle cx="131.8" cy="461.3" r="3.6"/><circle cx="126.5" cy="468.3" r="3.6"/><circle cx="138.5" cy="472.5" r="3.6"/><circle cx="124.7" cy="490.7" r="3.6"/><circle cx="98.7" cy="484.7" r="3.6"/><circle cx="86.9" cy="505.6" r="3.6"/><circle cx="90.8" cy="447" r="3.6"/><circle cx="101" cy="455" r="3.6"/><circle cx="112" cy="450" r="3.6"/>
</g>
<g fill="#1FCBD0" fill-opacity="0.72">
<circle cx="96.5" cy="543" r="3.6"/><circle cx="60" cy="552.1" r="3.6"/><circle cx="74.8" cy="568.6" r="3.6"/><circle cx="69.6" cy="578.7" r="3.6"/><circle cx="79.5" cy="580.3" r="3.6"/><circle cx="52.7" cy="583.9" r="3.6"/><circle cx="65.7" cy="583.9" r="3.6"/><circle cx="87.9" cy="585.2" r="3.6"/><circle cx="95.2" cy="582.9" r="3.6"/><circle cx="99.9" cy="584.7" r="3.6"/><circle cx="60" cy="593.1" r="3.6"/><circle cx="55.5" cy="597.8" r="3.6"/><circle cx="102.5" cy="597.8" r="3.6"/><circle cx="111.6" cy="598.5" r="3.6"/><circle cx="86.8" cy="589.9" r="3.6"/><circle cx="85.3" cy="596.5" r="3.6"/><circle cx="66.5" cy="600.4" r="3.6"/><circle cx="63.9" cy="606.9" r="3.6"/><circle cx="70.4" cy="610.8" r="3.6"/><circle cx="70.4" cy="613.9" r="3.6"/><circle cx="82.1" cy="610.8" r="3.6"/><circle cx="84.7" cy="614.7" r="3.6"/><circle cx="47.7" cy="622.5" r="3.6"/><circle cx="73" cy="622" r="3.6"/><circle cx="75.6" cy="622.5" r="3.6"/><circle cx="82.9" cy="620.4" r="3.6"/><circle cx="79.5" cy="604.3" r="3.6"/><circle cx="74.3" cy="608.2" r="3.6"/><circle cx="68" cy="590" r="3.6"/><circle cx="72" cy="600" r="3.6"/><circle cx="78" cy="588" r="3.6"/><circle cx="81" cy="601" r="3.6"/><circle cx="90" cy="603" r="3.6"/><circle cx="76" cy="615" r="3.6"/><circle cx="66" cy="612" r="3.6"/>
</g>
<g fill="#2A7A2A" fill-opacity="0.72">
<circle cx="83.4" cy="509.9" r="3.6"/><circle cx="80.3" cy="521.6" r="3.6"/><circle cx="101.7" cy="518.8" r="3.6"/><circle cx="90.5" cy="524.8" r="3.6"/><circle cx="85.3" cy="532.6" r="3.6"/><circle cx="91.3" cy="534.4" r="3.6"/><circle cx="90.5" cy="548.7" r="3.6"/><circle cx="103" cy="573" r="3.6"/><circle cx="157.2" cy="524" r="3.6"/>
</g>
<g fill="#9D22D8" fill-opacity="0.72">
<circle cx="431.1" cy="486.1" r="3.6"/><circle cx="415.3" cy="502.7" r="3.6"/><circle cx="428.6" cy="497.6" r="3.6"/><circle cx="435.7" cy="497.6" r="3.6"/><circle cx="438.3" cy="500.1" r="3.6"/><circle cx="447.2" cy="503.2" r="3.6"/><circle cx="444.6" cy="507.8" r="3.6"/><circle cx="442.9" cy="520.3" r="3.6"/><circle cx="457.9" cy="493.5" r="3.6"/><circle cx="460.5" cy="511.6" r="3.6"/><circle cx="465.8" cy="514.1" r="3.6"/><circle cx="474" cy="500.1" r="3.6"/><circle cx="474" cy="507" r="3.6"/><circle cx="480.4" cy="503.2" r="3.6"/><circle cx="487.2" cy="506.5" r="3.6"/><circle cx="481.1" cy="515.4" r="3.6"/><circle cx="486.7" cy="516.4" r="3.6"/><circle cx="491.8" cy="522.3" r="3.6"/>
</g>
<path d="M98 450.7L120.1 406.3M98 450.7L109.4 417.1M98 450.7L97.1 423.1M98 450.7L92 426.1M98 450.7L86.5 427.8M98 450.7L106.3 426.7M98 450.7L118.6 434.9M98 450.7L81.7 437M98 450.7L74.6 451.3M98 450.7L66 466.7M98 450.7L116.9 492.5M98 450.7L103 478M98 450.7L84 462M98 450.7L111 452M98 450.7L88 470M98 450.7L108 466M98 450.7L95.25 456.14M98 450.7L95.51 446.22M98 450.7L89.32 447.44M98 450.7L107.28 455.09M98 450.7L106.62 452.99M98 450.7L100.97 452.22M98 450.7L82.84 460.26M98 450.7L101.96 455.99M98 450.7L89.67 444.38M98 450.7L100.19 449.45M98 450.7L102.08 442.29M98 450.7L100.22 454.73M98 450.7L91.68 470.61M98 450.7L102.4 464.36M98 450.7L92.04 441.13M98 450.7L94.47 448.72M98 450.7L103.06 452.98M98 450.7L93.56 438.52M98 450.7L92.92 464.65M98 450.7L90.39 452.94M98 450.7L101.25 432.12M98 450.7L97.93 465.67M98 450.7L96.57 440.19M98 450.7L101.88 449.25M98 450.7L84.61 459.93M98 450.7L103.39 461.35M98 450.7L110.18 454.35M98 450.7L98.55 434.41M98 450.7L102.92 442.66M98 450.7L93.52 434.82M98 450.7L88.98 443.63M98 450.7L84.67 452.87M98 450.7L110.2 456.94M98 450.7L100.65 441.16M98 450.7L87.65 461.73M98 450.7L107.2 451.89M98 450.7L99.66 455.21M98 450.7L111.53 457.43M98 450.7L102.06 456.57M98 450.7L105.9 456.36M98 450.7L95.88 462.23M98 450.7L102.36 448.2" stroke="#F5303A" stroke-width="1.1" fill="none" stroke-opacity="0.85"/>
<path d="M97.3 460.4L62.7 440.4M97.3 460.4L62.2 461.3M97.3 460.4L74.7 466.5M97.3 460.4L108.3 436.5M97.3 460.4L115.6 444.8M97.3 460.4L136.5 454M97.3 460.4L114.3 456M97.3 460.4L122.1 478.2M97.3 460.4L137 483.9M97.3 460.4L93.4 474.3M97.3 460.4L88 452M97.3 460.4L104 470M97.3 460.4L95 466M97.3 460.4L82 457M97.3 460.4L110 463" stroke="#1FB8F5" stroke-width="1.2" fill="none" stroke-opacity="0.85"/>
<path d="M103.5 481.5L77.8 483.4M103.5 481.5L71.3 499.6M103.5 481.5L93.4 490.7M103.5 481.5L106 504.8M103.5 481.5L128.6 497M103.5 481.5L145.1 496.5M103.5 481.5L85.6 475.1M103.5 481.5L118.2 475.6M103.5 481.5L123 490M103.5 481.5L100 470M103.5 481.5L112 484M103.5 481.5L96 481M103.5 481.5L109 474" stroke="#FFD92A" stroke-width="1.2" fill="none" stroke-opacity="0.85"/>
<path d="M115.9 464.4L124.7 446.4M115.9 464.4L129.4 449.5M115.9 464.4L147.7 451.4M115.9 464.4L145.6 457.4M115.9 464.4L131.8 461.3M115.9 464.4L126.5 468.3M115.9 464.4L138.5 472.5M115.9 464.4L124.7 490.7M115.9 464.4L98.7 484.7M115.9 464.4L86.9 505.6M115.9 464.4L90.8 447M115.9 464.4L101 455M115.9 464.4L112 450" stroke="#7A7A7A" stroke-width="1.2" fill="none" stroke-opacity="0.85"/>
<path d="M76.9 596.5L96.5 543M76.9 596.5L60 552.1M76.9 596.5L74.8 568.6M76.9 596.5L69.6 578.7M76.9 596.5L79.5 580.3M76.9 596.5L52.7 583.9M76.9 596.5L65.7 583.9M76.9 596.5L87.9 585.2M76.9 596.5L95.2 582.9M76.9 596.5L99.9 584.7M76.9 596.5L60 593.1M76.9 596.5L55.5 597.8M76.9 596.5L102.5 597.8M76.9 596.5L111.6 598.5M76.9 596.5L86.8 589.9M76.9 596.5L85.3 596.5M76.9 596.5L66.5 600.4M76.9 596.5L63.9 606.9M76.9 596.5L70.4 610.8M76.9 596.5L70.4 613.9M76.9 596.5L82.1 610.8M76.9 596.5L84.7 614.7M76.9 596.5L47.7 622.5M76.9 596.5L73 622M76.9 596.5L75.6 622.5M76.9 596.5L82.9 620.4M76.9 596.5L79.5 604.3M76.9 596.5L74.3 608.2M76.9 596.5L68 590M76.9 596.5L72 600M76.9 596.5L78 588M76.9 596.5L81 601M76.9 596.5L90 603M76.9 596.5L76 615M76.9 596.5L66 612" stroke="#1FCBD0" stroke-width="1.2" fill="none" stroke-opacity="0.85"/>
<path d="M98.3 532.6L83.4 509.9M98.3 532.6L80.3 521.6M98.3 532.6L101.7 518.8M98.3 532.6L90.5 524.8M98.3 532.6L85.3 532.6M98.3 532.6L91.3 534.4M98.3 532.6L90.5 548.7M98.3 532.6L103 573M98.3 532.6L157.2 524" stroke="#2A7A2A" stroke-width="1.2" fill="none" stroke-opacity="0.85"/>
<path d="M458.7 506.2L431.1 486.1M458.7 506.2L415.3 502.7M458.7 506.2L428.6 497.6M458.7 506.2L435.7 497.6M458.7 506.2L438.3 500.1M458.7 506.2L447.2 503.2M458.7 506.2L444.6 507.8M458.7 506.2L442.9 520.3M458.7 506.2L457.9 493.5M458.7 506.2L460.5 511.6M458.7 506.2L465.8 514.1M458.7 506.2L474 500.1M458.7 506.2L474 507M458.7 506.2L480.4 503.2M458.7 506.2L487.2 506.5M458.7 506.2L481.1 515.4M458.7 506.2L486.7 516.4M458.7 506.2L491.8 522.3" stroke="#9D22D8" stroke-width="1.2" fill="none" stroke-opacity="0.85"/>
<ellipse cx="96.5" cy="452.2" rx="20.71" ry="15.32" transform="rotate(102.17 96.5 452.2)" stroke="#F5303A" stroke-width="1.1" fill="none" stroke-opacity="0.9"/>
<ellipse cx="99" cy="460.5" rx="31.25" ry="20.22" transform="rotate(-170.44 99 460.5)" stroke="#1FB8F5" stroke-width="1.2" fill="none" stroke-opacity="0.9"/>
<ellipse cx="105.5" cy="484.5" rx="27.56" ry="15.7" transform="rotate(-175.51 105.5 484.5)" stroke="#FFD92A" stroke-width="1.2" fill="none" stroke-opacity="0.9"/>
<ellipse cx="115.9" cy="464.5" rx="27.78" ry="23.73" transform="rotate(154.99 115.9 464.5)" stroke="#7A7A7A" stroke-width="1.2" fill="none" stroke-opacity="0.9"/>
<ellipse cx="77.8" cy="594.8" rx="27.7" ry="18.85" transform="rotate(113.39 77.8 594.8)" stroke="#1FCBD0" stroke-width="1.2" fill="none" stroke-opacity="0.9"/>
<ellipse cx="98" cy="531.7" rx="31.65" ry="24.81" transform="rotate(-170.95 98 531.7)" stroke="#2A7A2A" stroke-width="1.2" fill="none" stroke-opacity="0.9"/>
<ellipse cx="458.7" cy="506.1" rx="35.06" ry="12.19" transform="rotate(-164.89 458.7 506.1)" stroke="#9D22D8" stroke-width="1.2" fill="none" stroke-opacity="0.9"/>
<rect x="3.8" y="345.5" width="532.5" height="338.3" fill="none" stroke="#2a2a2a" stroke-width="1.45"/>
<rect x="3.1" y="683" width="534" height="2" fill="#3a3a3a"/>
<text transform="translate(6.4 365.7) scale(1 0.97)" font-family="'Liberation Sans', Arial, sans-serif" font-size="20.5" font-weight="700" text-anchor="start" fill="#111" stroke="#111" stroke-width="0.2">b</text>
<rect x="453.5" y="345.5" width="82.8" height="108.7" fill="#fff" stroke="#222" stroke-width="1.1"/>
<circle cx="464.7" cy="359" r="3.2" fill="#F5303A" fill-opacity="0.8"/>
<text transform="translate(476 363.1) scale(1 0.94)" font-family="'Liberation Sans', Arial, sans-serif" font-size="12.1" text-anchor="start" fill="#111" stroke="#111" stroke-width="0.2">MEX</text>
<circle cx="464.7" cy="372.57" r="3.2" fill="#1FB8F5" fill-opacity="0.8"/>
<text transform="translate(476 376.67) scale(1 0.94)" font-family="'Liberation Sans', Arial, sans-serif" font-size="12.1" text-anchor="start" fill="#111" stroke="#111" stroke-width="0.2">CenAme</text>
<circle cx="464.7" cy="386.14" r="3.2" fill="#FFD92A" fill-opacity="0.8"/>
<text transform="translate(476 390.24) scale(1 0.94)" font-family="'Liberation Sans', Arial, sans-serif" font-size="12.1" text-anchor="start" fill="#111" stroke="#111" stroke-width="0.2">VEN-ANT</text>
<circle cx="464.7" cy="399.71" r="3.2" fill="#7A7A7A" fill-opacity="0.8"/>
<text transform="translate(476 403.81) scale(1 0.94)" font-family="'Liberation Sans', Arial, sans-serif" font-size="12.1" text-anchor="start" fill="#111" stroke="#111" stroke-width="0.2">COL</text>
<circle cx="464.7" cy="413.28" r="3.2" fill="#1FCBD0" fill-opacity="0.8"/>
<text transform="translate(476 417.38) scale(1 0.94)" font-family="'Liberation Sans', Arial, sans-serif" font-size="12.1" text-anchor="start" fill="#111" stroke="#111" stroke-width="0.2">BRA-AM</text>
<circle cx="464.7" cy="426.85" r="3.2" fill="#2A7A2A" fill-opacity="0.8"/>
<text transform="translate(476 430.95) scale(1 0.94)" font-family="'Liberation Sans', Arial, sans-serif" font-size="12.1" text-anchor="start" fill="#111" stroke="#111" stroke-width="0.2">PER-AM</text>
<circle cx="464.7" cy="440.42" r="3.2" fill="#9D22D8" fill-opacity="0.8"/>
<text transform="translate(476 444.52) scale(1 0.94)" font-family="'Liberation Sans', Arial, sans-serif" font-size="12.1" text-anchor="start" fill="#111" stroke="#111" stroke-width="0.2">PER-AND</text>
<rect x="298.5" y="609" width="107.3" height="68.6" fill="#fff" stroke="#222" stroke-width="1"/>
<rect x="302.5" y="615.2" width="14.2" height="61.6" fill="#828282" stroke="#222" stroke-width="0.9"/>
<rect x="319.4" y="659.1" width="14.3" height="17.7" fill="#828282" stroke="#222" stroke-width="0.9"/>
<rect x="336.2" y="666.4" width="14.4" height="10.4" fill="#d9d9d9" stroke="#222" stroke-width="0.9"/>
<rect x="353.4" y="673.3" width="14.2" height="3.5" fill="#d9d9d9" stroke="#222" stroke-width="0.9"/>
<rect x="370.3" y="674.6" width="14.3" height="2.2" fill="#d9d9d9" stroke="#222" stroke-width="0.9"/>
<rect x="387.3" y="675.3" width="14.2" height="1.5" fill="#d9d9d9" stroke="#222" stroke-width="0.9"/>
<text transform="translate(314.8 622.3) scale(1 0.94)" font-family="'Liberation Sans', Arial, sans-serif" font-size="12.5" text-anchor="start" fill="#111" stroke="#111" stroke-width="0.2">DA eigenvalues</text>
<rect x="418.5" y="609" width="107.3" height="68.6" fill="#fff" stroke="#222" stroke-width="1"/>
<defs><clipPath id="cpd"><path d="M422.3 674.9 L422.3 672 L422.8 665.3 L423.9 658.6 L426.2 650.8 L429.5 643 L434 636.8 L439.6 631.8 L446.3 628.5 L453.2 626.7 L453.2 674.9 Z"/></clipPath>
<clipPath id="cpl"><path d="M453.2 674.9 L453.2 626.7 L457 624.6 L461 623 L466 621.6 L472 620.6 L480 619.8 L492 619.3 L522.3 619.2 L522.3 674.9 Z"/></clipPath></defs>
<g clip-path="url(#cpl)"><rect x="453.2" y="618.2" width="69.1" height="56.7" fill="#cdcdcd"/>
<rect x="463" y="618.2" width="3" height="56.7" fill="#c0c0c0"/>
<rect x="471.3" y="618.2" width="3" height="56.7" fill="#c0c0c0"/>
<rect x="479.6" y="618.2" width="3" height="56.7" fill="#c0c0c0"/>
<rect x="487.9" y="618.2" width="3" height="56.7" fill="#c0c0c0"/>
<rect x="496.2" y="618.2" width="3" height="56.7" fill="#c0c0c0"/>
<rect x="504.5" y="618.2" width="3" height="56.7" fill="#c0c0c0"/>
<rect x="512.8" y="618.2" width="3" height="56.7" fill="#c0c0c0"/>
<rect x="521.1" y="618.2" width="3" height="56.7" fill="#c0c0c0"/>
</g>
<g clip-path="url(#cpd)"><rect x="422.3" y="619.2" width="30.9" height="55.7" fill="#2b2b2b"/>
<rect x="425" y="619.2" width="3.8" height="55.7" fill="#3c3c3c"/>
<rect x="432.9" y="619.2" width="3.8" height="55.7" fill="#3c3c3c"/>
<rect x="441.3" y="619.2" width="3.8" height="55.7" fill="#3c3c3c"/>
<rect x="449.2" y="619.2" width="3.8" height="55.7" fill="#3c3c3c"/>
</g>
<text transform="translate(420 622.3) scale(1 0.94)" font-family="'Liberation Sans', Arial, sans-serif" font-size="12.5" text-anchor="start" fill="#111" stroke="#111" stroke-width="0.2">PCA eigenvalues</text>
</g>
</svg>
</body></html>
